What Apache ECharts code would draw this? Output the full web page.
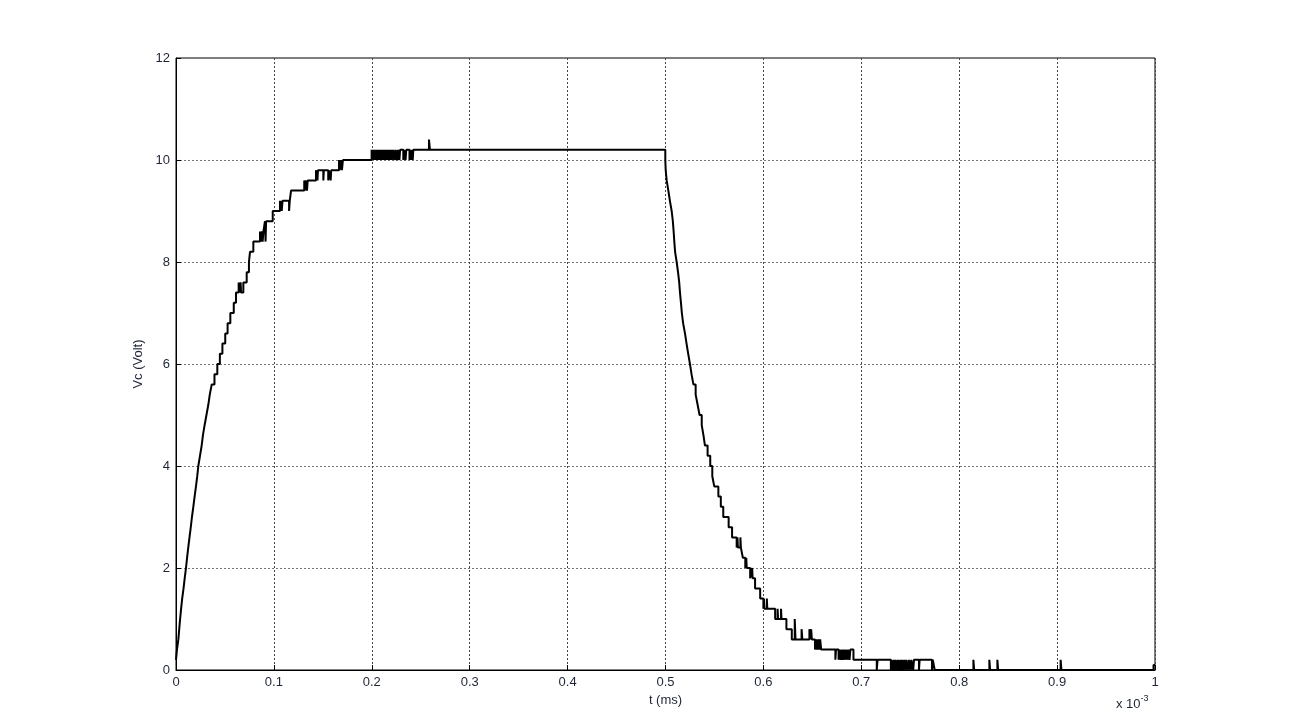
<!DOCTYPE html>
<html>
<head>
<meta charset="utf-8">
<script src="https://cdn.jsdelivr.net/npm/echarts@6/dist/echarts.min.js"></script>
<style>html,body{margin:0;padding:0;background:#fff}#c{width:1292px;height:720px}</style>
</head>
<body>
<div id="c"></div>
<script>
// time in units of 1e-3 s (axis shows "x 10^-3"), voltage in Volt
var xTicks = ['0','0.1','0.2','0.3','0.4','0.5','0.6','0.7','0.8','0.9','1'];
var yTicks = ['0','2','4','6','8','10','12'];

var riseData = [
  [0,0.2],[0.001,0.4],[0.0024,0.6],[0.0033,0.8],[0.0042,1.0],[0.0052,1.2],[0.0063,1.4],[0.0077,1.6],
  [0.0089,1.8],[0.0102,2.0],[0.0113,2.2],[0.0125,2.4],[0.0138,2.6],[0.0151,2.8],[0.0163,3.0],[0.0177,3.2],
  [0.019,3.4],[0.0204,3.6],[0.0217,3.8],[0.0228,4.0],[0.0245,4.2],[0.0262,4.4],[0.0275,4.6],[0.0292,4.8],
  [0.0311,5.0],[0.033,5.2],[0.0345,5.4],[0.0365,5.6],[0.0393,5.8],[0.0422,6.0],[0.0448,6.2],[0.0474,6.4],
  [0.0503,6.6],[0.0527,6.8],[0.0555,7.0],[0.059,7.2],[0.0613,7.4],[0.064,7.6],[0.0645,7.4],[0.066,7.6],
  [0.0665,7.4],[0.0688,7.6],[0.0722,7.8],[0.0745,8.0],[0.0756,8.2],[0.079,8.4],[0.0858,8.6],[0.087,8.4],
  [0.0878,8.6],[0.0885,8.4],[0.0893,8.6],[0.0909,8.8],[0.0915,8.4],[0.092,8.8],[0.0988,9.0],[0.1062,9.2],
  [0.1068,9.0],[0.1075,9.2],[0.108,9.0],[0.1088,9.2],[0.1155,9.0],[0.1162,9.2],[0.1175,9.4],[0.131,9.6],
  [0.1315,9.4],[0.1322,9.6],[0.1338,9.4],[0.1345,9.6],[0.143,9.8],[0.1445,9.6],[0.145,9.8],[0.1505,9.6],
  [0.151,9.8],[0.1555,9.6],[0.156,9.8],[0.158,9.6],[0.1585,9.8],[0.1665,10.0],[0.1672,9.8],[0.1685,10.0],
  [0.1695,9.8],[0.1705,10.0]
];
var plateauData = [
  [0.1998,10.2],[0.2005,10.0],[0.2012,10.2],[0.202,10.0],[0.2027,10.2],[0.2036,10.0],[0.2043,10.2],
  [0.2052,10.0],[0.2059,10.2],[0.2068,10.0],[0.2075,10.2],[0.2085,10.0],[0.2092,10.2],[0.2102,10.0],
  [0.2109,10.2],[0.212,10.0],[0.2127,10.2],[0.2138,10.0],[0.2145,10.2],[0.2156,10.0],[0.2163,10.2],
  [0.2175,10.0],[0.2182,10.2],[0.2195,10.0],[0.2202,10.2],[0.2215,10.0],[0.2222,10.2],[0.2238,10.0],
  [0.2245,10.2],[0.226,10.0],[0.2268,10.2],[0.2282,10.0],[0.2289,10.2],[0.2322,10.0],[0.2329,10.2],
  [0.2345,10.0],[0.2352,10.2],[0.2385,10.0],[0.2392,10.2],[0.2402,10.0],[0.2409,10.2],[0.2418,10.0],
  [0.2424,10.2],[0.2584,10.4],[0.2594,10.2]
];
var fallData = [
  [0.4998,10.0],[0.5002,9.8],[0.5012,9.6],[0.5029,9.4],[0.5045,9.2],[0.5063,9.0],[0.5075,8.8],[0.5083,8.6],
  [0.509,8.4],[0.5098,8.2],[0.5114,8.0],[0.5128,7.8],[0.514,7.6],[0.5148,7.4],[0.5158,7.2],[0.5167,7.0],
  [0.518,6.8],[0.5199,6.6],[0.5215,6.4],[0.5232,6.2],[0.525,6.0],[0.5266,5.8],[0.5285,5.6],[0.5308,5.4],
  [0.5328,5.2],[0.5348,5.0],[0.537,4.8],[0.5388,4.6],[0.5403,4.4],[0.543,4.2],[0.5457,4.0],[0.5478,3.8],
  [0.5498,3.6],[0.554,3.4],[0.5565,3.2],[0.559,3.0],[0.5645,2.8],[0.568,2.6],[0.5727,2.4],[0.5735,2.6],
  [0.574,2.4],[0.5765,2.6],[0.577,2.4],[0.579,2.2],[0.5815,2.0],[0.5825,2.2],[0.583,2.0],[0.5865,1.8],
  [0.5885,2.0],[0.589,1.8],[0.5915,1.6],[0.5967,1.4],[0.6,1.2],[0.6005,1.4],[0.601,1.2],[0.6035,1.4],
  [0.604,1.2],[0.612,1.0],[0.6145,1.2],[0.615,1.0],[0.618,1.2],[0.6185,1.0],[0.6235,0.8],[0.629,0.6],
  [0.632,1.0],[0.6328,0.6],[0.639,0.8],[0.6398,0.6],[0.647,0.8],[0.648,0.6],[0.6488,0.8],[0.6495,0.6],
  [0.6527,0.4],[0.6535,0.6],[0.6542,0.4],[0.655,0.6],[0.6558,0.4],[0.6565,0.6],[0.6575,0.4],[0.658,0.6],
  [0.659,0.4],[0.6735,0.2],[0.6742,0.4],[0.6768,0.2],[0.6775,0.4],[0.679,0.2],[0.6798,0.4],[0.6812,0.2],
  [0.682,0.4],[0.6835,0.2],[0.6842,0.4],[0.6858,0.2],[0.6865,0.4],[0.688,0.2],[0.6888,0.4],[0.692,0.2]
];
var tailData = [
  [0.7158,0],[0.7166,0.2],[0.7302,0],[0.731,0.2],[0.7325,0],[0.7333,0.2],[0.7345,0],[0.7352,0.2],
  [0.7368,0],[0.7375,0.2],[0.739,0],[0.7398,0.2],[0.741,0],[0.7418,0.2],[0.7432,0],[0.744,0.2],
  [0.7455,0],[0.7462,0.2],[0.748,0],[0.7488,0.2],[0.7505,0],[0.7512,0.2],[0.753,0],[0.7538,0.2],
  [0.7589,0],[0.7596,0.2],[0.7722,0],[0.773,0.2],[0.775,0],
  [0.8145,0.2],[0.8153,0],[0.8308,0.2],[0.8316,0],[0.839,0.2],[0.8398,0],[0.9036,0.2],[0.9044,0],
  [0.9985,0.1],[1,0.1]
];

var lineData = riseData.concat(plateauData, fallData, tailData);

var txt = '#1e2536';
var chart = echarts.init(document.getElementById('c'));
chart.setOption({
  backgroundColor: '#fff',
  animation: false,
  grid: {left: 176, right: 137, top: 58, bottom: 50, show: true, borderColor: '#000', borderWidth: 1, backgroundColor: 'transparent'},
  xAxis: {
    type: 'value', min: 0, max: 1, interval: 0.1,
    name: 't (ms)', nameLocation: 'middle', nameGap: 21,
    nameTextStyle: {fontFamily: 'Liberation Sans', fontSize: 13, color: txt},
    axisLine: {show: true, lineStyle: {color: '#000', width: 1}},
    axisTick: {inside: true, length: 5, lineStyle: {color: '#000'}},
    axisLabel: {fontFamily: 'Liberation Sans', fontSize: 13, color: txt, margin: 6,
      formatter: function (v) { var i = Math.round(v * 10); return xTicks[i]; }},
    splitLine: {show: true, lineStyle: {color: '#444', type: [2, 2], width: 1}}
  },
  yAxis: {
    type: 'value', min: 0, max: 12, interval: 2,
    name: 'Vc (Volt)', nameLocation: 'middle', nameGap: 30, nameRotate: 90,
    nameTextStyle: {fontFamily: 'Liberation Sans', fontSize: 13, color: txt},
    axisLine: {show: true, lineStyle: {color: '#000', width: 1}},
    axisTick: {inside: true, length: 5, lineStyle: {color: '#000'}},
    axisLabel: {fontFamily: 'Liberation Sans', fontSize: 13, color: txt, margin: 6,
      formatter: function (v) { return yTicks[Math.round(v / 2)]; }},
    splitLine: {show: true, lineStyle: {color: '#777', type: [2, 2], width: 1}}
  },
  graphic: [{
    type: 'text', left: 1116, top: 694,
    style: {
      text: '{a|x 10}{b|-3}',
      rich: {
        a: {fontFamily: 'Liberation Sans', fontSize: 13, fill: txt, padding: [6, 0, 0, 0]},
        b: {fontFamily: 'Liberation Sans', fontSize: 9, fill: txt, padding: [0, 0, 6, 0]}
      }
    }
  }],
  series: [{
    type: 'line', step: 'end', data: lineData, showSymbol: false, symbol: 'none',
    lineStyle: {color: '#000', width: 2}, clip: true
  }]
});
</script>
</body>
</html>
